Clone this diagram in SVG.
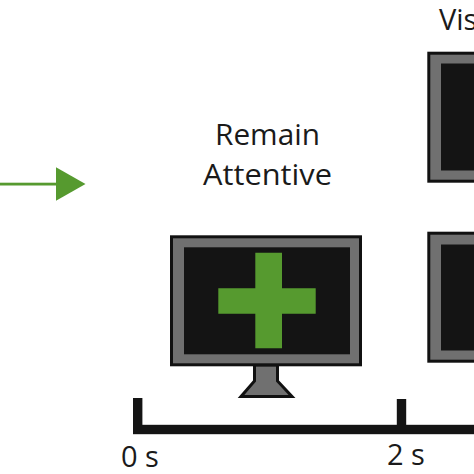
<svg xmlns="http://www.w3.org/2000/svg" width="474" height="474" viewBox="0 0 474 474">
<style>
text{font-family:"Open Sans","Noto Sans","Liberation Sans",sans-serif;fill:#1a1a1a}
.lbl{font-size:30px;text-anchor:middle}
.tm{font-size:29px}
.bez{fill:#707070;stroke:#111;stroke-width:3}
.scr{fill:#141414}
.grn{fill:#569a2f}
.blk{fill:#141414}
</style>
<rect width="474" height="474" fill="#fff"/>
<g id="connectors">
<rect x="0" y="182.700" width="58" height="2.800" class="grn"/>
<polygon points="56,167.300 85.500,184 56,200.700" class="grn"/>
</g>
<g id="remain-label">
<text class="lbl" x="267.500" y="145" textLength="105" lengthAdjust="spacingAndGlyphs">Remain</text>
<text class="lbl" x="267.500" y="185" textLength="129" lengthAdjust="spacingAndGlyphs">Attentive</text>
</g>
<g id="monitor-center">
<polygon points="254.500,365 277.500,365 277.500,381 292,396.500 241,396.500 254.500,381" class="bez"/>
<rect x="171.500" y="236.800" width="189" height="128" class="bez"/>
<rect x="184" y="247.300" width="166" height="107" class="scr"/>
<path d="M255.300 252.700H282V288.300H315.700V313.700H282V348.300H255.300V313.700H218.300V288.300H255.300Z" class="grn"/>
</g>
<g id="monitor-top">
<text class="tm" x="439" y="30">Vis</text>
<rect x="428.800" y="53.200" width="60" height="128" class="bez"/>
<rect x="441" y="63.500" width="40" height="107" class="scr"/>
</g>
<g id="monitor-bottom">
<rect x="428.800" y="233.200" width="60" height="128" class="bez"/>
<rect x="441" y="244.500" width="40" height="106" class="scr"/>
</g>
<g id="timeline">
<rect x="133" y="424.800" width="341" height="9.400" class="blk"/>
<rect x="133" y="398" width="9.400" height="36" class="blk"/>
<rect x="396.800" y="399" width="9.400" height="30" class="blk"/>
<text class="tm" x="121" y="467">0 s</text>
<text class="tm" x="387" y="465">2 s</text>
</g>
</svg>
